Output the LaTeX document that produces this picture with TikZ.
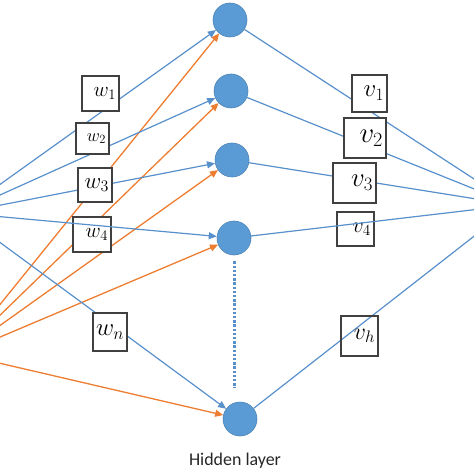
\documentclass[tikz,border=0pt]{standalone}
\usepackage{fix-cm}
\usepackage{fontspec}
\setmainfont{Liberation Serif}
\newfontfamily\labelfont{Carlito}
\usetikzlibrary{arrows.meta}
\definecolor{nodeblue}{RGB}{91,155,213}
\definecolor{lineblue}{RGB}{88,144,204}
\definecolor{lineorange}{RGB}{237,125,49}
\newcommand{\wt}[3]{\fontsize{#1}{#1}\selectfont$#2_{#3}$}
\tikzset{
  neuron/.style={circle, fill=nodeblue, draw=nodeblue!85!black, line width=.6bp, minimum size=34bp, inner sep=0},
  blueline/.style={draw=lineblue, line width=1.2bp},
  orangeline/.style={draw=lineorange, line width=1.3bp},
  wbox/.style={draw=black!75, line width=1.2bp, fill=white, inner xsep=3bp, inner ysep=0, align=right}
}
\begin{document}
\begin{tikzpicture}[x=1bp, y=-1bp, >={Triangle[length=8bp,width=7bp]}]
\useasboundingbox (0,0) rectangle (474,474);
\clip (0,0) rectangle (474,474);
% hidden layer
\node [neuron] (h1) at (230,20) {};
\node [neuron] (h2) at (231,91) {};
\node [neuron] (h3) at (232,160) {};
\node [neuron] (h4) at (234,238) {};
\node [neuron] (h5) at (240,419) {};
% inputs and output (outside the frame)
\node [neuron] (in1) at (-40,213) {};
\node [neuron] (in2) at (-40,354) {};
\node [neuron] (out) at (514,205) {};
% orange connections
\draw[->, orangeline] (in2) -- (h1);
\draw[->, orangeline] (in2) -- (h2);
\draw[->, orangeline] (in2) -- (h3);
\draw[->, orangeline] (in2) -- (h4);
\draw[->, orangeline] (in2) -- (h5);
% blue connections
\draw[->, blueline] (in1) -- (h1);
\draw[->, blueline] (in1) -- (h2);
\draw[->, blueline] (in1) -- (h3);
\draw[->, blueline] (in1) -- (h5);
\draw[blueline] (h1) -- (out);
\draw[blueline] (h2) -- (out);
\draw[blueline] (h3) -- (out);
\draw[blueline] (h5) -- (out);
% weights
\node [wbox, minimum height=35bp, text width=31bp] (w1) at (100.5,93.5) {\wt{21}{w}{1}};
\node [wbox, minimum height=31bp, text width=27bp] (w2) at (92.5,138.5) {\wt{18}{w}{2}};
\node [wbox, minimum height=34bp, text width=28bp] (w3) at (95,185) {\wt{23}{w}{3}};
\node [wbox, minimum height=35bp, text width=32bp] (w4) at (92,234.5) {\wt{21}{w}{4}};
\node [wbox, minimum height=38bp, text width=28bp] (wn) at (110,332) {\wt{25}{w}{n}};
\node [wbox, minimum height=37bp, text width=29bp] (v1) at (369.5,93.5) {\wt{25}{v}{1}};
\node [wbox, minimum height=40bp, text width=36bp] (v2) at (365,138) {\wt{29}{v}{2}};
\node [wbox, minimum height=40bp, text width=37bp] (v3) at (354.5,183) {\wt{27}{v}{3}};
\node [wbox, minimum height=34bp, text width=31bp] (v4) at (355.5,229) {\wt{22}{v}{4}};
\node [wbox, fill=none, minimum height=40bp, text width=31bp] (vh) at (359.5,336) {\wt{24}{v}{h}};
\draw[->, blueline] (in1) -- (h4);
\draw[blueline] (h4) -- (out);
\draw[draw=lineblue, line width=3bp, dash pattern=on 2.4bp off 1.8bp, shorten <=6bp, shorten >=14bp] (h4.south) -- (h4.south |- h5.north);
\node [font=\labelfont\fontsize{18}{18}\selectfont, text=black!85] (hl) at (235,461) {Hidden layer};
\end{tikzpicture}
\end{document}
